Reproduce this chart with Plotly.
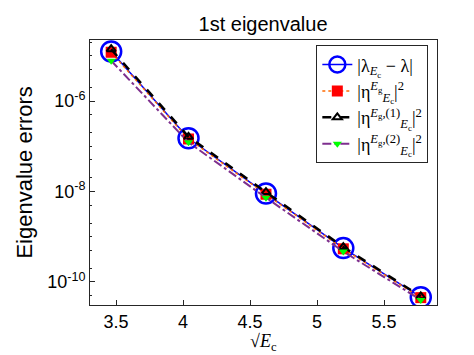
import plotly.graph_objects as go

sqrt_ec = [3.464, 4.041, 4.619, 5.196, 5.774]
err_lambda = [1.25e-5, 1.5e-7, 9.0e-9, 5.6e-10, 4.6e-11]
eta_g = [1.2e-5, 1.45e-7, 8.7e-9, 5.4e-10, 4.5e-11]
eta_g1 = [1.4e-5, 1.62e-7, 9.7e-9, 5.9e-10, 4.8e-11]
eta_g2 = [7.8e-6, 1.22e-7, 7.3e-9, 4.7e-10, 4.0e-11]

x_ticks = [3.5, 4, 4.5, 5, 5.5]
y_ticks = [1e-10, 1e-8, 1e-6]
y_ticktext = ["10<sup>-10</sup>", "10<sup>-8</sup>", "10<sup>-6</sup>"]

fig = go.Figure()
fig.add_trace(go.Scatter(
    x=sqrt_ec, y=err_lambda, mode="lines+markers",
    name="|λ<sub><i>E</i><sub>c</sub></sub> − λ|",
    line=dict(color="#0000ff", width=1.5),
    marker=dict(symbol="circle-open", size=20, color="#0000ff", line=dict(width=2.5)),
))
fig.add_trace(go.Scatter(
    x=sqrt_ec, y=eta_g, mode="lines+markers",
    name="|η<sup><i>E</i><sub>g</sub></sup><sub><i>E</i><sub>c</sub></sub>|<sup>2</sup>",
    line=dict(color="#ff6a00", width=1.5, dash="dot"),
    marker=dict(symbol="square", size=11, color="#ff0000"),
))
fig.add_trace(go.Scatter(
    x=sqrt_ec, y=eta_g1, mode="lines+markers",
    name="|η<sup><i>E</i><sub>g</sub>,(1)</sup><sub><i>E</i><sub>c</sub></sub>|<sup>2</sup>",
    line=dict(color="#000000", width=2.5, dash="dash"),
    marker=dict(symbol="triangle-up-open", size=8, color="#000000", line=dict(width=2)),
))
fig.add_trace(go.Scatter(
    x=sqrt_ec, y=eta_g2, mode="lines+markers",
    name="|η<sup><i>E</i><sub>g</sub>,(2)</sup><sub><i>E</i><sub>c</sub></sub>|<sup>2</sup>",
    line=dict(color="#7e2f8e", width=2, dash="dashdot"),
    marker=dict(symbol="triangle-down", size=8, color="#00ff00"),
))

axis_common = dict(
    showline=True, linecolor="#262626", linewidth=1, mirror=True, automargin=False,
    ticks="inside", ticklen=5, tickcolor="#262626", showgrid=False, zeroline=False,
    tickfont=dict(family="Liberation Sans, Arial", size=18, color="#000000"),
)

fig.update_layout(
    width=474, height=355,
    margin=dict(l=82, r=45, t=32, b=58),
    paper_bgcolor="white", plot_bgcolor="white",
    title=dict(text="1st eigenvalue", x=0.538, xanchor="center", y=0.955, yanchor="middle",
               font=dict(family="Liberation Sans, Arial", size=20, color="#000000")),
    showlegend=True,
    legend=dict(x=0.975, y=0.98, xanchor="right", yanchor="top",
                bgcolor="white", bordercolor="#262626", borderwidth=1,
                font=dict(family="Liberation Serif, Times New Roman", size=18, color="#000000"),
                tracegroupgap=0, itemwidth=30),
    xaxis=dict(axis_common, range=[3.306, 5.895], tickvals=x_ticks,
               ticktext=[str(v) for v in x_ticks]),
    yaxis=dict(axis_common, type="log", range=[-10.51, -4.65], tickvals=y_ticks, ticktext=y_ticktext,
               minor=dict(ticks="inside", ticklen=2, tickcolor="#262626", showgrid=False)),
    annotations=[
        dict(text="√<i>E</i><sub>c</sub>", xref="paper", yref="paper", x=0.5, y=-0.14,
             xanchor="center", yanchor="middle", showarrow=False,
             font=dict(family="Liberation Serif, Times New Roman", size=18, color="#000000")),
        dict(text="Eigenvalue errors", xref="paper", yref="paper", x=-0.19, y=0.5,
             xanchor="center", yanchor="middle", showarrow=False, textangle=-90,
             font=dict(family="Liberation Sans, Arial", size=22, color="#000000")),
    ],
)

fig.write_html("out.html")
